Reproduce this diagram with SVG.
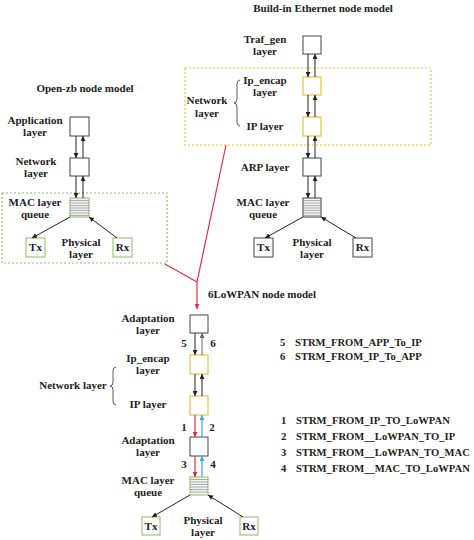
<svg xmlns="http://www.w3.org/2000/svg" width="474" height="540" viewBox="0 0 474 540">
<defs>
<marker id="ak" viewBox="0 0 6 6" refX="6" refY="3" markerWidth="5" markerHeight="5" markerUnits="userSpaceOnUse" orient="auto"><path d="M0,0 L6,3 L0,6 z" fill="#222"/></marker>
<marker id="ag" viewBox="0 0 6 6" refX="6" refY="3" markerWidth="5" markerHeight="5" markerUnits="userSpaceOnUse" orient="auto"><path d="M0,0 L6,3 L0,6 z" fill="#666"/></marker>
<marker id="ar" viewBox="0 0 6 6" refX="6" refY="3" markerWidth="5" markerHeight="5" markerUnits="userSpaceOnUse" orient="auto"><path d="M0,0 L6,3 L0,6 z" fill="#e0303c"/></marker>
<marker id="au" viewBox="0 0 6 6" refX="6" refY="3" markerWidth="5" markerHeight="5" markerUnits="userSpaceOnUse" orient="auto"><path d="M0,0 L6,3 L0,6 z" fill="#3aa6dc"/></marker>
</defs>
<style>
text{font-family:"Liberation Serif","Times New Roman",serif;font-weight:bold;font-size:11px;fill:#222;text-anchor:middle}
.lg{font-size:10.6px;text-anchor:start}
.box{fill:#fff;stroke:#444;stroke-width:1}
.ybox{fill:#fff;stroke:#e8c84c;stroke-width:1.3}
.gbox{fill:#fff;stroke:#9cc87a;stroke-width:1.2}
.q{fill:#f4f4f4}
.st{stroke:#888;stroke-width:0.7}
.k{stroke:#222;stroke-width:1;fill:none;marker-end:url(#ak)}
.g{stroke:#666;stroke-width:1;fill:none;marker-end:url(#ag)}
.r{stroke:#e0303c;stroke-width:1.2;fill:none}
.ra{stroke:#e0303c;stroke-width:1.2;fill:none;marker-end:url(#ar)}
.ua{stroke:#3aa6dc;stroke-width:1.2;fill:none;marker-end:url(#au)}
.br{stroke:#333;stroke-width:0.8;fill:none}
.ydash{fill:none;stroke:#f0c030;stroke-width:1.2;stroke-dasharray:2,2}
.gdash{fill:none;stroke:#8cc060;stroke-width:1.2;stroke-dasharray:2,2}
</style>

<!-- group frames -->
<g id="eth-network-group"><rect class="ydash" x="185" y="68" width="246" height="77"/></g>
<g id="zb-mac-phy-group"><rect class="gdash" x="2" y="193" width="165" height="70"/></g>

<!-- titles -->
<text x="323" y="12">Build-in Ethernet  node model</text>
<text x="85" y="92">Open-zb node model</text>
<text x="262" y="298">6LoWPAN node model</text>

<!-- Ethernet model -->
<g id="eth-trafgen"><rect class="box" x="303" y="36" width="18" height="18"/><text x="265" y="43">Traf_gen</text><text x="265" y="55">layer</text></g>
<g id="eth-ipencap"><rect class="ybox" x="303" y="77" width="18" height="18"/><text x="265" y="84">Ip_encap</text><text x="265" y="96">layer</text></g>
<g id="eth-ip"><rect class="ybox" x="303" y="117" width="18" height="19"/><text x="265" y="130">IP layer</text></g>
<g id="eth-netlabel"><text x="207" y="104">Network</text><text x="207" y="117">layer</text><path class="br" d="M240,80 Q237,80 237,84 L237,99 Q237,103 234,103 Q237,103 237,107 L237,122 Q237,126 240,126"/></g>
<g id="eth-arp"><rect class="box" x="303" y="158" width="18" height="18"/><text x="265" y="171">ARP layer</text></g>
<g id="eth-mac"><rect class="box q" x="303" y="198" width="18" height="19"/>
<line class="st" x1="303" y1="200.5" x2="321" y2="200.5"/><line class="st" x1="303" y1="203" x2="321" y2="203"/><line class="st" x1="303" y1="205.5" x2="321" y2="205.5"/><line class="st" x1="303" y1="208" x2="321" y2="208"/><line class="st" x1="303" y1="210.5" x2="321" y2="210.5"/><line class="st" x1="303" y1="213" x2="321" y2="213"/><line class="st" x1="303" y1="215.5" x2="321" y2="215.5"/>
<text x="263" y="206">MAC layer</text><text x="263" y="218">queue</text></g>
<g id="eth-tx"><rect class="box" x="254" y="238" width="19" height="19"/><text x="263.5" y="251">Tx</text></g>
<g id="eth-rx"><rect class="box" x="353" y="238" width="19" height="19"/><text x="362.5" y="251">Rx</text></g>
<g id="eth-phy"><text x="312" y="246">Physical</text><text x="312" y="258">layer</text></g>

<!-- Open-zb model -->
<g id="zb-app"><rect class="box" x="70" y="117" width="19" height="19"/><text x="35" y="124">Application</text><text x="35" y="136">layer</text></g>
<g id="zb-net"><rect class="box" x="70" y="158" width="19" height="18"/><text x="36" y="165">Network</text><text x="36" y="177">layer</text></g>
<g id="zb-mac"><rect class="gbox q" x="70" y="198" width="19" height="19"/>
<line class="st" x1="70" y1="200.5" x2="89" y2="200.5"/><line class="st" x1="70" y1="203" x2="89" y2="203"/><line class="st" x1="70" y1="205.5" x2="89" y2="205.5"/><line class="st" x1="70" y1="208" x2="89" y2="208"/><line class="st" x1="70" y1="210.5" x2="89" y2="210.5"/><line class="st" x1="70" y1="213" x2="89" y2="213"/><line class="st" x1="70" y1="215.5" x2="89" y2="215.5"/>
<text x="35" y="206">MAC layer</text><text x="35" y="218">queue</text></g>
<g id="zb-tx"><rect class="gbox" x="26" y="238" width="19" height="19"/><text x="35.5" y="251">Tx</text></g>
<g id="zb-rx"><rect class="gbox" x="113" y="238" width="19" height="19"/><text x="122.5" y="251">Rx</text></g>
<g id="zb-phy"><text x="81" y="246">Physical</text><text x="81" y="258">layer</text></g>

<!-- 6LoWPAN model -->
<g id="lp-adapt1"><rect class="box" x="190" y="315" width="18" height="18"/><text x="148" y="322">Adaptation</text><text x="148" y="334">layer</text></g>
<g id="lp-ipencap"><rect class="ybox" x="190" y="355" width="18" height="19"/><text x="148" y="362">Ip_encap</text><text x="148" y="374">layer</text></g>
<g id="lp-ip"><rect class="ybox" x="190" y="396" width="18" height="19"/><text x="148" y="408">IP layer</text></g>
<g id="lp-netlabel"><text x="73" y="389">Network layer</text><path class="br" d="M116,367 Q113,367 113,371 L113,382 Q113,386 110,386 Q113,386 113,390 L113,401 Q113,405 116,405"/></g>
<g id="lp-adapt2"><rect class="box" x="190" y="437" width="18" height="19"/><text x="148" y="444">Adaptation</text><text x="148" y="456">layer</text></g>
<g id="lp-mac"><rect class="gbox q" x="190" y="477" width="18" height="18"/>
<line class="st" x1="190" y1="479.5" x2="208" y2="479.5"/><line class="st" x1="190" y1="482" x2="208" y2="482"/><line class="st" x1="190" y1="484.5" x2="208" y2="484.5"/><line class="st" x1="190" y1="487" x2="208" y2="487"/><line class="st" x1="190" y1="489.5" x2="208" y2="489.5"/><line class="st" x1="190" y1="492" x2="208" y2="492"/>
<text x="148" y="484">MAC layer</text><text x="148" y="496">queue</text></g>
<g id="lp-tx"><rect class="gbox" x="142" y="517" width="18" height="18"/><text x="151" y="530">Tx</text></g>
<g id="lp-rx"><rect class="gbox" x="240" y="517" width="18" height="18"/><text x="249" y="530">Rx</text></g>
<g id="lp-phy"><text x="203" y="524">Physical</text><text x="203" y="536">layer</text></g>

<!-- stream numbers -->
<g id="stream-numbers">
<text x="184" y="347">5</text><text x="213" y="347">6</text>
<text x="184" y="431">1</text><text x="212" y="431">2</text>
<text x="184" y="468">3</text><text x="213" y="468">4</text>
</g>

<!-- legend -->
<g id="legend">
<text class="lg" x="280" y="346">5</text><text class="lg" x="295" y="346">STRM_FROM_APP_To_IP</text>
<text class="lg" x="280" y="360">6</text><text class="lg" x="295" y="360">STRM_FROM_IP_To_APP</text>
<text class="lg" x="281" y="424">1</text><text class="lg" x="296" y="424">STRM_FROM_IP_TO_LoWPAN</text>
<text class="lg" x="281" y="440">2</text><text class="lg" x="296" y="440">STRM_FROM__LoWPAN_TO_IP</text>
<text class="lg" x="281" y="456">3</text><text class="lg" x="296" y="456">STRM_FROM__LoWPAN_TO_MAC</text>
<text class="lg" x="281" y="472">4</text><text class="lg" x="296" y="472">STRM_FROM__MAC_TO_LoWPAN</text>
</g>

<!-- connectors -->
<g id="connectors">
<!-- Ethernet -->
<line class="k" x1="308" y1="54" x2="308" y2="77"/><line class="k" x1="315" y1="77" x2="315" y2="54"/>
<line class="k" x1="308" y1="95" x2="308" y2="117"/><line class="k" x1="315" y1="117" x2="315" y2="95"/>
<line class="k" x1="308" y1="136" x2="308" y2="158"/><line class="k" x1="315" y1="158" x2="315" y2="136"/>
<line class="k" x1="308" y1="176" x2="308" y2="198"/><line class="k" x1="315" y1="198" x2="315" y2="176"/>
<line class="k" x1="303" y1="217" x2="265" y2="238"/><line class="k" x1="356" y1="238" x2="321" y2="217"/>
<!-- Open-zb -->
<line class="k" x1="76" y1="136" x2="76" y2="158"/><line class="k" x1="83" y1="158" x2="83" y2="136"/>
<line class="k" x1="76" y1="176" x2="76" y2="198"/><line class="k" x1="83" y1="198" x2="83" y2="176"/>
<line class="k" x1="70" y1="217" x2="32" y2="238"/><line class="k" x1="117" y1="238" x2="89" y2="217"/>
<!-- 6LoWPAN -->
<line class="k" x1="195" y1="333" x2="195" y2="355"/><line class="g" x1="202" y1="355" x2="202" y2="333"/>
<line class="k" x1="195" y1="374" x2="195" y2="396"/><line class="k" x1="202" y1="396" x2="202" y2="374"/>
<line class="ra" x1="195" y1="415" x2="195" y2="437"/><line class="ua" x1="202" y1="437" x2="202" y2="415"/>
<line class="ra" x1="195" y1="456" x2="195" y2="477"/><line class="ua" x1="202" y1="477" x2="202" y2="456"/>
<line class="k" x1="190" y1="495" x2="152" y2="517"/><line class="k" x1="243" y1="517" x2="208" y2="495"/>
<!-- red merge -->
<polyline class="ra" points="226,145 197,282 197,309"/>
<line class="r" x1="165" y1="264" x2="197" y2="282"/>
</g>
</svg>
